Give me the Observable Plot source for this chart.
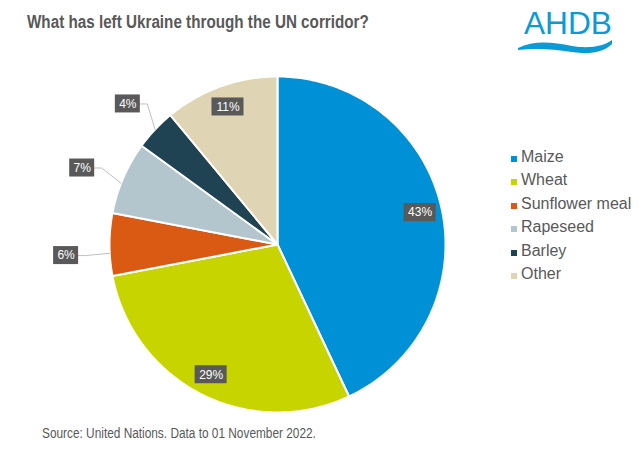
<!DOCTYPE html>
<html>
<head>
<meta charset="utf-8">
<script src="https://cdn.jsdelivr.net/npm/d3@7"></script>
<script src="https://cdn.jsdelivr.net/npm/@observablehq/plot@0.6"></script>
<style>
  html, body { margin: 0; padding: 0; background: #fff; }
  #wrap { position: relative; width: 643px; height: 449px; overflow: hidden; font-family: "Liberation Sans", Arial, sans-serif; color: #595959; }
  #title { position: absolute; left: 27px; top: 13px; font-size: 18px; line-height: 1; font-weight: bold; color: #595959; white-space: nowrap; transform: scaleX(0.846); transform-origin: 0 0; }
  #logo { position: absolute; left: 514px; top: 4px; width: 110px; height: 52px; }
  #chart { position: absolute; left: 0; top: 0; }
  #legend { position: absolute; left: 511px; top: 145px; font-size: 16px; color: #595959; }
  #legend .row { height: 23.5px; display: flex; align-items: center; white-space: nowrap; }
  #legend .sw { width: 6px; height: 6px; margin-right: 4px; position: relative; top: 2px; }
  #caption { position: absolute; left: 42px; top: 426px; font-size: 14px; line-height: 1; color: #595959; white-space: nowrap; transform: scaleX(0.846); transform-origin: 0 0; }
</style>
</head>
<body>
<div id="wrap">
  <div id="title">What has left Ukraine through the UN corridor?</div>
  <svg id="logo" viewBox="0 0 110 52">
    <text x="54" y="30" text-anchor="middle" font-family="Liberation Sans, Arial, sans-serif" font-size="31" fill="#0a9ad8" textLength="88" lengthAdjust="spacingAndGlyphs">AHDB</text>
    <path d="M4,44 C20,36 38,38 58,42 C76,45 90,42 98,36 L98,40 C90,48 76,51 58,48 C38,45 22,44 4,46 Z" fill="#0a9ad8"/>
  </svg>
  <div id="chart"></div>
  <div id="legend"></div>
  <div id="caption">Source: United Nations. Data to 01 November 2022.</div>
</div>
<script>
// Share of shipments by commodity (%)
const categories = ["Maize", "Wheat", "Sunflower meal", "Rapeseed", "Barley", "Other"];
const shares = [43, 29, 6, 7, 4, 11];
const colors = ["#0090d5", "#c8d400", "#da5a13", "#b3c5cd", "#1f4352", "#dfd4b3"];
// which labels sit outside the pie with a leader line
const outside = [false, false, true, true, true, false];

const rows = categories.map((name, i) => ({name, value: shares[i], color: colors[i], outside: outside[i]}));
const arcs = d3.pie().value(d => d.value).sort(null)(rows);

// wedge outlines: centre, then points along the arc (angles clockwise from 12 o'clock)
const wedgePoints = [];
for (const a of arcs) {
  const steps = Math.max(4, Math.ceil((a.endAngle - a.startAngle) / (Math.PI / 180)));
  wedgePoints.push({name: a.data.name, x: 0, y: 0});
  for (let k = 0; k <= steps; k++) {
    const t = a.startAngle + (a.endAngle - a.startAngle) * k / steps;
    wedgePoints.push({name: a.data.name, x: Math.sin(t), y: Math.cos(t)});
  }
}

// label anchors: inside labels near the rim; side labels pushed further out and a little down
const pxPerUnit = 168;
const labels = arcs.map(a => {
  const mid = (a.startAngle + a.endAngle) / 2;
  const side = Math.abs(Math.sin(mid));
  let ang = mid, rr = 0.87;
  if (a.data.outside) {
    ang = mid - 3 * Math.PI / 180 * Math.max(0, (side - 0.75) / 0.25);
    rr = 1.12 + 0.14 * side;
  }
  const text = `${a.data.value}%`;
  const w = (text.length * 7 + 11) / pxPerUnit;
  const h = 18 / pxPerUnit;
  const x = rr * Math.sin(ang), y = rr * Math.cos(ang);
  return {text, x, y, w, outside: a.data.outside, ang,
    x1: x - w / 2, x2: x + w / 2, y1: y - h / 2, y2: y + h / 2};
});

// leader lines: from the rim to the label, with a short horizontal elbow for side labels
const leaderPoints = [];
labels.filter(d => d.outside).forEach((d, i) => {
  const ex = Math.sin(d.ang), ey = Math.cos(d.ang);
  leaderPoints.push({id: i, x: ex, y: ey});
  if (Math.abs(ex - d.x) > Math.abs(ey - d.y)) {
    leaderPoints.push({id: i, x: d.x + d.w / 2 + 7 / pxPerUnit, y: d.y});
  }
  leaderPoints.push({id: i, x: d.x, y: d.y});
});

const plot = Plot.plot({
  width: 643,
  height: 449,
  margin: 0,
  x: {domain: [-1, 1], range: [277 - pxPerUnit, 277 + pxPerUnit], axis: null},
  y: {domain: [-1, 1], range: [244 + pxPerUnit, 244 - pxPerUnit], axis: null},
  color: {domain: categories, range: colors},
  style: {fontFamily: "Liberation Sans, Arial, sans-serif", background: "transparent"},
  marks: [
    Plot.line(wedgePoints, {x: "x", y: "y", z: "name", fill: "name", stroke: "white", strokeWidth: 2, strokeLinejoin: "round", curve: "linear-closed"}),
    Plot.line(leaderPoints, {x: "x", y: "y", z: "id", stroke: "#bfbfbf", strokeWidth: 1}),
    Plot.rect(labels, {x1: "x1", x2: "x2", y1: "y1", y2: "y2", fill: "#595959"}),
    Plot.text(labels, {x: "x", y: "y", text: "text", fill: "white", fontSize: 12})
  ]
});
document.getElementById("chart").appendChild(plot);

// legend
const legend = document.getElementById("legend");
for (const r of rows) {
  const row = document.createElement("div");
  row.className = "row";
  const sw = document.createElement("span");
  sw.className = "sw";
  sw.style.background = r.color;
  const lab = document.createElement("span");
  lab.textContent = r.name;
  row.appendChild(sw);
  row.appendChild(lab);
  legend.appendChild(row);
}
</script>
</body>
</html>
